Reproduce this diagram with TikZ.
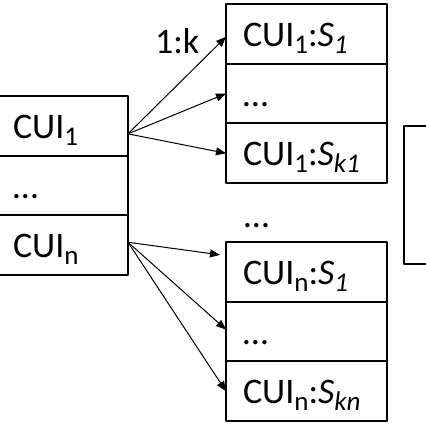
\documentclass[tikz,border=0pt]{standalone}
\usepackage{fontspec}
\setmainfont{Carlito}
\usetikzlibrary{arrows.meta}
\newcommand\low[1]{\raisebox{-7pt}{\fontsize{27}{27}\selectfont #1}}

\begin{document}
\begin{tikzpicture}[x=1pt, y=-1pt, line width=2pt, line join=round,
    font=\fontsize{36}{43}\selectfont,
    row/.style={draw, rectangle, anchor=north west, outer sep=0pt, inner ysep=0pt,
      inner xsep=17pt, minimum height=59.7pt, text height=25pt, text depth=0pt,
      align=left},
    wide/.style={row, text width=127pt},
    narrow/.style={row, text width=98pt},
    link/.style={line width=1pt, -{Triangle[length=10pt,width=8pt]}}]
  \useasboundingbox (0,0) rectangle (426,426);
  \clip (0,0) rectangle (426,426);
  % left table
  \node[narrow] (cui1) at (-4,96) {CUI\low{1}};
  \node[narrow] (cuidots) at (cui1.south west) {\dots};
  \node[narrow] (cuin) at (cuidots.south west) {CUI\low{n}};
  % senses of the first concept
  \node[wide] (s11) at (226,4) {CUI\low{1}:\textit{S\low{1}}};
  \node[wide] (s1dots) at (s11.south west) {\dots};
  \node[wide] (s1k) at (s1dots.south west) {CUI\low{1}:\textit{S\low{k1}}};
  % senses of the last concept
  \node[wide] (sn1) at (226,242) {CUI\low{n}:\textit{S\low{1}}};
  \node[wide] (sndots) at (sn1.south west) {\dots};
  \node[wide] (snk) at (sndots.south west) {CUI\low{n}:\textit{S\low{kn}}};
  \node[anchor=base west, inner sep=0pt] (between) at (243,227) {\dots};
  \node[anchor=base west, inner sep=0pt] (ratio) at (154,53) {1:k};
  % box at the right edge
  \draw (404,126) rectangle (440,264);
  % links
  \draw[link] ([yshift=-8pt]cui1.east) -- ([yshift=-3pt]s11.west);
  \draw[link] ([yshift=-8pt]cui1.east) -- (s1dots.west);
  \draw[link] ([yshift=-8pt]cui1.east) -- (s1k.west);
  \draw[link] ([yshift=3pt]cuin.east) -- ([xshift=-6pt,yshift=17pt]sn1.west);
  \draw[link] ([yshift=3pt]cuin.east) -- ([yshift=2pt]sndots.west);
  \draw[link] ([yshift=3pt]cuin.east) -- (snk.west);
\end{tikzpicture}
\end{document}
